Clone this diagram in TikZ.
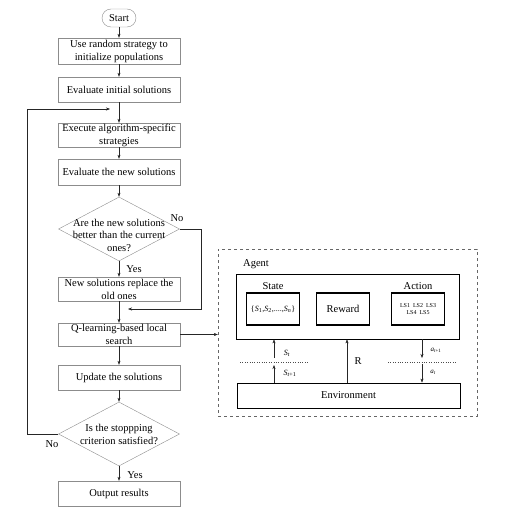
\documentclass[tikz,border=0pt]{standalone}
\usepackage{fontspec}
\setmainfont{Liberation Serif}
\usetikzlibrary{arrows.meta,positioning,shapes}

\begin{document}
\begin{tikzpicture}[x=1pt,y=-1pt,inner sep=0pt]
  \useasboundingbox(0,0)rectangle(515,516);
  \tikzstyle{b}=[rectangle,draw=black!45,minimum width=122pt,minimum height=25pt,align=center,font=\fontsize{10.5}{13}\selectfont]
  \tikzstyle{d}=[diamond,draw=black!45,minimum width=121pt,minimum height=64pt]
  \tikzstyle{t}=[align=center,font=\fontsize{10.5}{12.5}\selectfont]
  \tikzstyle{e}=[-{Stealth[length=4pt,width=3pt]},draw=black!85]
  % flow chart
  \node[b,rounded corners=9pt,minimum width=34pt,minimum height=18pt](s)at(119,18){Start};
  \node[b,minimum height=26pt](b1)at(119,51){Use random strategy to\\initialize populations};
  \node[b](b2)at(119,89.5){Evaluate initial solutions};
  \node[b,minimum height=24pt](b3)at(119,135){Execute algorithm-specific\\strategies};
  \node[b,minimum height=26pt](b4)at(119,172){Evaluate the new solutions};
  \node[d](d1)at(119,229){};
  \node[t]at(119,235){Are the new solutions\\better than the current\\ones?};
  \node[b,minimum height=24pt](b5)at(119,289){New solutions replace the\\old ones};
  \node[b,minimum height=23pt](b6)at(119,334.5){Q-learning-based local\\search};
  \node[b](b7)at(119,377.5){Update the solutions};
  \node[d](d2)at(119,434){};
  \node[t]at(119,434.5){Is the stoppping\\criterion satisfied?};
  \node[b](b8)at(119,493.5){Output results};
  \foreach\o/\d in{s/b1,b1/b2,b2/b3,b3/b4,b4/d1,d1/b5,b5/b6,b6/b7,b7/d2,d2/b8}{\draw[e](\o.south)--(\d.north);}
  \coordinate(in1)at(110,109);
  \coordinate(in2)at(128,309);
  \draw[e](d2.west)--++(-31,0)|-(in1);
  \draw[e](d1.east)--++(21,0)|-(in2);
  \node[t]at(134,269){Yes};
  \node[t]at(135,475){Yes};
  \node[t]at(177,218){No};
  \node[t]at(52,444){No};
  % RL part
  \node[draw=black!60,dashed,minimum width=259pt,minimum height=167pt](rl)at(347.5,332.5){};
  \draw[e](b6.east)--(b6.east-|rl.west);
  \node[draw,line width=0.8pt,minimum width=223pt,minimum height=65pt](ag)at(347.5,306.5){};
  \node[t]at(256,264){Agent};
  \tikzstyle{ib}=[rectangle,draw,line width=1.2pt,minimum width=53pt,minimum height=32pt,align=center]
  \node[ib,font=\fontsize{8}{9}\selectfont](st)at(273,309){\{\textit{S}\textsubscript{1},\textit{S}\textsubscript{2},....,\textit{S}\textsubscript{\textit{n}}\}};
  \node[ib,t](rw)at(343,309){Reward};
  \node[ib,font=\fontsize{6}{7.5}\selectfont](ac)at(418,309){LS1 \ LS2 \ LS3\\LS4 \ LS5};
  \node[t,above=3pt of st]{State};
  \node[t,above=3pt of ac]{Action};
  \node[draw,line width=0.8pt,minimum width=223pt,minimum height=25pt,t](env)at(348.5,395.5){Environment};
  \draw[dotted,black!70](240,362)--(308,362);
  \draw[dotted,black!70](388,362)--(457,362);
  \coordinate(p1)at(274,358);
  \coordinate(p2)at(274,365);
  \coordinate(p3)at(422,358);
  \coordinate(p4)at(422,364);
  \coordinate(p5)at(347,364);
  \draw[e](p1)--(p1|-ag.south);
  \draw[e](p2|-env.north)--(p2);
  \draw[e](p5|-env.north)--(p5|-ag.south);
  \draw[e](p3|-ag.south)--(p3);
  \draw[e](p4)--(p4|-env.north);
  \node[font=\fontsize{8}{9}\selectfont]at(287,353){\textit{S}\textsubscript{\textit{t}}};
  \node[font=\fontsize{8}{9}\selectfont]at(290,373){\textit{S}\textsubscript{\textit{t}+1}};
  \node[t]at(358,361){R};
  \node[font=\fontsize{7}{9}\selectfont]at(436,350){\textit{a}\textsubscript{\textit{t}+1}};
  \node[font=\fontsize{7}{9}\selectfont]at(433,372){\textit{a}\textsubscript{\textit{t}}};
\end{tikzpicture}
\end{document}
